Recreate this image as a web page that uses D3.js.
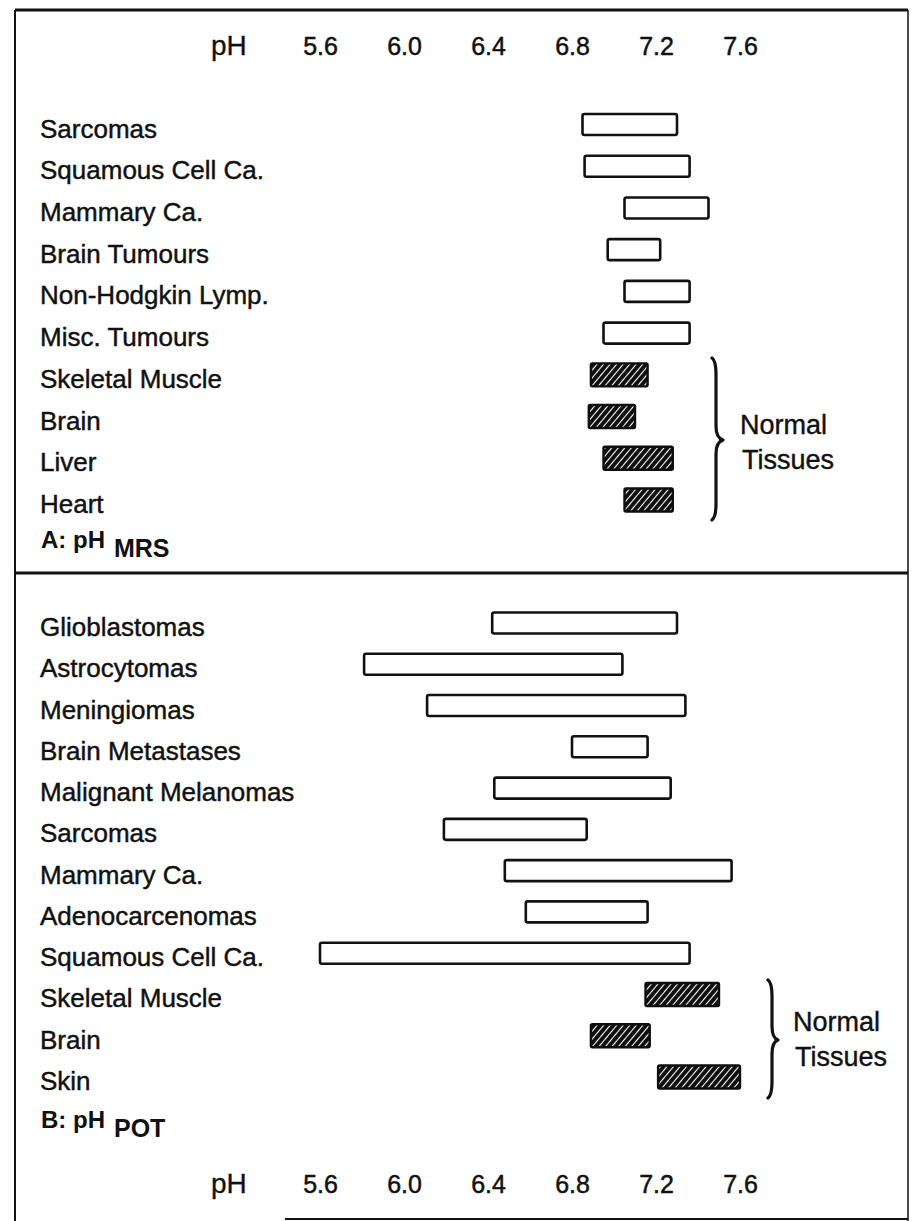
<!DOCTYPE html>
<html>
<head>
<meta charset="utf-8">
<script src="https://cdn.jsdelivr.net/npm/d3@7/dist/d3.min.js"></script>
<style>
  html, body { margin: 0; padding: 0; background: #fff; }
  svg { display: block; }
  text { font-family: "Liberation Sans", Arial, Helvetica, sans-serif; fill: #111; }
</style>
</head>
<body>
<script>
// ---------------- data ----------------
const tickValues = [5.6, 6.0, 6.4, 6.8, 7.2, 7.6];
const tickLabels = ["5.6", "6.0", "6.4", "6.8", "7.2", "7.6"];

const catsA = ["Sarcomas", "Squamous Cell Ca.", "Mammary Ca.", "Brain Tumours", "Non-Hodgkin Lymp.",
               "Misc. Tumours", "Skeletal Muscle", "Brain", "Liver", "Heart"];
const lowA  = [6.85, 6.86, 7.05, 6.97, 7.05, 6.95, 6.89, 6.88, 6.95, 7.05];
const highA = [7.30, 7.36, 7.45, 7.22, 7.36, 7.36, 7.16, 7.10, 7.28, 7.28];
const normalA = [false, false, false, false, false, false, true, true, true, true];

const catsB = ["Glioblastomas", "Astrocytomas", "Meningiomas", "Brain Metastases", "Malignant Melanomas",
               "Sarcomas", "Mammary Ca.", "Adenocarcenomas", "Squamous Cell Ca.", "Skeletal Muscle", "Brain", "Skin"];
const lowB  = [6.42, 5.81, 6.11, 6.80, 6.43, 6.19, 6.48, 6.58, 5.60, 7.15, 6.89, 7.21];
const highB = [7.30, 7.04, 7.34, 7.16, 7.27, 6.87, 7.56, 7.16, 7.36, 7.50, 7.17, 7.60];
const normalB = [false, false, false, false, false, false, false, false, false, true, true, true];

const bracketText = ["Normal", "Tissues"];

// ---------------- drawing ----------------
const W = 924, H = 1221;
const svg = d3.select("body").append("svg").attr("width", W).attr("height", H);

const defs = svg.append("defs");
const pat = defs.append("pattern")
  .attr("id", "hatch").attr("patternUnits", "userSpaceOnUse")
  .attr("width", 5).attr("height", 5)
  .attr("patternTransform", "rotate(40)");
pat.append("rect").attr("width", 5).attr("height", 5).attr("fill", "#0d0d0d");
pat.append("line").attr("x1", 1.5).attr("y1", 0).attr("x2", 1.5).attr("y2", 5)
  .attr("stroke", "#fff").attr("stroke-width", 1.1);

const x = d3.scaleLinear().domain([5.6, 7.6]).range([320, 740]);

// frame
const frame = svg.append("g").attr("stroke", "#111").attr("fill", "none");
frame.append("line").attr("x1", 15).attr("y1", 10).attr("x2", 908).attr("y2", 10).attr("stroke-width", 3);
frame.append("line").attr("x1", 15).attr("y1", 10).attr("x2", 15).attr("y2", H).attr("stroke-width", 2);
frame.append("line").attr("x1", 908).attr("y1", 10).attr("x2", 908).attr("y2", H).attr("stroke-width", 1.5);
frame.append("line").attr("x1", 15).attr("y1", 573).attr("x2", 908).attr("y2", 573).attr("stroke-width", 3);
frame.append("line").attr("x1", 285).attr("y1", 1219).attr("x2", 908).attr("y2", 1219).attr("stroke-width", 2);

// axes (tick labels only)
function drawAxis(yBase, axisFn) {
  const g = svg.append("g").attr("transform", `translate(0,${yBase})`);
  g.call(axisFn(x).tickValues(tickValues).tickSize(0).tickPadding(0)
    .tickFormat((d, i) => tickLabels[i]));
  g.select(".domain").remove();
  g.selectAll(".tick text")
    .attr("y", 0).attr("dy", 0)
    .attr("font-family", "Liberation Sans, Arial, sans-serif")
    .attr("font-size", 25).attr("fill", "#111")
    .attr("stroke", "#111").attr("stroke-width", 0.5);
  svg.append("text").attr("x", 211).attr("y", yBase).attr("font-size", 28)
    .attr("stroke", "#111").attr("stroke-width", 0.3).text("pH");
}
drawAxis(55, d3.axisBottom);
drawAxis(1193, d3.axisBottom);

function panel(cats, lo, hi, normal, yTop, yBottom) {
  const y = d3.scalePoint().domain(cats).range([yTop, yBottom]);
  const rows = cats.map((c, i) => ({ c, lo: lo[i], hi: hi[i], n: normal[i] }));
  const g = svg.append("g");
  g.selectAll("text.lab").data(rows).join("text")
    .attr("class", "lab")
    .attr("x", 40).attr("y", d => y(d.c) + 13)
    .attr("font-size", 26)
    .attr("stroke", "#111").attr("stroke-width", 0.45)
    .text(d => d.c);
  const bh = 21;
  g.selectAll("rect.open").data(rows.filter(d => !d.n)).join("rect")
    .attr("class", "open")
    .attr("x", d => x(d.lo)).attr("width", d => x(d.hi) - x(d.lo))
    .attr("y", d => y(d.c) - bh / 2).attr("height", bh)
    .attr("rx", 2)
    .attr("fill", "#fff").attr("stroke", "#111").attr("stroke-width", 2.6);
  g.selectAll("rect.norm").data(rows.filter(d => d.n)).join("rect")
    .attr("class", "norm")
    .attr("x", d => x(d.lo)).attr("width", d => x(d.hi) - x(d.lo))
    .attr("y", d => y(d.c) - 11.5).attr("height", 23)
    .attr("rx", 1.5)
    .attr("fill", "url(#hatch)").attr("stroke", "#0d0d0d").attr("stroke-width", 2.4);
  return y;
}
panel(catsA, lowA, highA, normalA, 124.5, 500);
panel(catsB, lowB, highB, normalB, 623, 1077);

// braces
function brace(xh, top, bottom, tipX, tipY) {
  const xv = xh + 4;
  const p = d3.path();
  p.moveTo(xh, top);
  p.quadraticCurveTo(xv, top + 3, xv, top + 16);
  p.lineTo(xv, tipY - 14);
  p.quadraticCurveTo(xv, tipY - 2, tipX, tipY);
  p.quadraticCurveTo(xv, tipY + 2, xv, tipY + 14);
  p.lineTo(xv, bottom - 16);
  p.quadraticCurveTo(xv, bottom - 3, xh, bottom);
  svg.append("path").attr("d", p.toString())
    .attr("fill", "none").attr("stroke", "#111").attr("stroke-width", 3.2)
    .attr("stroke-linejoin", "round").attr("stroke-linecap", "round");
}
brace(712, 358, 520, 723, 440);
brace(768, 980, 1098, 778, 1040);

function bracketLabel(x0, y0) {
  svg.append("text").attr("x", x0).attr("y", y0).attr("font-size", 27)
    .attr("stroke", "#111").attr("stroke-width", 0.4).text(bracketText[0]);
  svg.append("text").attr("x", x0 + 2).attr("y", y0 + 35).attr("font-size", 27)
    .attr("stroke", "#111").attr("stroke-width", 0.4).text(bracketText[1]);
}
bracketLabel(740, 434);
bracketLabel(793, 1031);

// panel titles
function title(y0, main, sub) {
  const t = svg.append("text").attr("x", 41).attr("y", y0)
    .attr("font-size", 24).attr("font-weight", "bold");
  t.append("tspan").text(main);
  t.append("tspan").attr("dx", 9).attr("dy", 9).attr("font-size", 25).text(sub);
}
title(548, "A: pH", "MRS");
title(1128, "B: pH", "POT");
</script>
</body>
</html>
